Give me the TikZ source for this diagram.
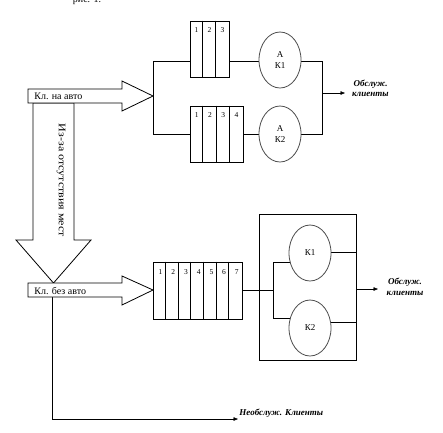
\documentclass[tikz,border=0pt]{standalone}
\usepackage{fontspec}
\setmainfont{Liberation Serif}
\usetikzlibrary{shapes.geometric,arrows.meta,backgrounds,calc}
\begin{document}
\begin{tikzpicture}[x=1pt,y=-1pt,line width=0.8pt,
 lbl/.style={font=\fontsize{10}{11}\selectfont,inner sep=0pt},
 ilbl/.style={font=\fontsize{9}{10.5}\selectfont\bfseries\itshape,inner sep=0pt},
 num/.style={font=\fontsize{7.5}{8}\selectfont,inner sep=0pt},
 queuebox/.style={draw,rectangle,minimum height=56pt,inner sep=0pt,fill=white},
 serv/.style={draw=black!70,ellipse,minimum width=42pt,minimum height=56pt,inner sep=0pt,fill=white,align=center,font=\fontsize{9}{11}\selectfont},
 bigarrow/.style={draw,fill=white},
 outarrow/.style={-{Triangle[length=4.5pt,width=3.5pt]}},
]
\useasboundingbox (0,0) rectangle (443,432);

% caption (cut off at top, as in the original)
\node[lbl,anchor=base] (cap) at (87,2.5) {рис. 1.};

% big arrows
\draw[bigarrow] (33,103) -- (74,103) -- (74,240) -- (91,240) -- (53.5,283) -- (16,240) -- (33,240) -- cycle;
\draw[bigarrow] (28,89) -- (122,89) -- (122,81) -- (153,96) -- (122,111) -- (122,103) -- (28,103) -- cycle;
\draw[bigarrow] (28,283) -- (122,283) -- (122,276) -- (153,290) -- (122,305) -- (122,297) -- (28,297) -- cycle;
\node[lbl,anchor=west] (a1) at (34,96.5) {Кл. на авто};
\node[lbl,anchor=west] (a2) at (34,290.5) {Кл. без авто};
\node[lbl,rotate=-90] (a3) at (61,180.5) {\scalebox{1.2}[1]{Из-за отсутствия мест}};
\coordinate (u0) at (52,297);

% top queues and servers
\node[queuebox,minimum width=39pt] (q1) at (209.5,49) {};
\foreach \i in {1,2} \draw ($(q1.north west)+(13*\i,0)$) -- ($(q1.south west)+(13*\i,0)$);
\foreach \i in {1,2,3} \node[num] (q1n\i) at ($(q1.north west)+(13*\i-6,9)$) {\i};

\node[queuebox,minimum width=53pt] (q2) at (216.5,134) {};
\foreach \i in {1,2,3} \draw ($(q2.north west)+(13.25*\i,0)$) -- ($(q2.south west)+(13.25*\i,0)$);
\foreach \i in {1,2,3,4} \node[num] (q2n\i) at ($(q2.north west)+(13.25*\i-6.2,9)$) {\i};

\node[serv] (k1) at (280,60) {А\\К1};
\node[serv] (k2) at (280,134) {А\\К2};

% bottom queue
\node[queuebox,minimum width=89pt,minimum height=57pt] (q3) at (197.5,290.5) {};
\foreach \i in {1,...,6} \draw ($(q3.north west)+(12.714*\i,0)$) -- ($(q3.south west)+(12.714*\i,0)$);
\foreach \i in {1,...,7} \node[num] (q3n\i) at ($(q3.north west)+(12.714*\i-4.8,10)$) {\i};

% bottom server block
\node[draw,minimum width=97pt,minimum height=146pt,inner sep=0pt] (box) at (307.5,287) {};
\node[serv] (kb1) at (310,253) {К1};
\node[serv] (kb2) at (310,328) {К2};

% labels
\node[ilbl,anchor=east] (t1) at (388,84) {Обслуж.};
\node[ilbl,anchor=east] (t2) at (389,94.5) {клиенты};
\node[ilbl,align=center] (t3) at (405,287) {Обслуж.\\клиенты};
\node[ilbl,anchor=south west] (t4) at (239,418) {Необслуж. Клиенты};

\begin{scope}[on background layer]
 \coordinate (f1) at (153,61);
 \coordinate (f2) at (153,134);
 \draw (q1.west |- f1) -- (f1) -- (f2) -- (q2.west |- f2);
 \draw (q1.east |- f1) -- (k1.center |- f1);
 \draw (q2.east) -- (k2);
 \coordinate (j1) at (322,61);
 \coordinate (j2) at (322,134);
 \draw (k1.center |- j1) -- (j1) -- (j2) -- (k2);
 \coordinate (o1) at (322,93);
 \coordinate (o1e) at (345,93);
 \draw[outarrow] (o1) -- (o1e);

 \coordinate (s) at (273,290);
 \coordinate (s1) at (273,262);
 \coordinate (s2) at (273,318);
 \draw (q3.east |- s) -- (s);
 \draw (s1 -| kb1) -- (s1) -- (s2) -- (s2 -| kb2);
 \coordinate (r1) at (356,252);
 \coordinate (r2) at (356,322);
 \draw (r1 -| kb1) -- (r1) -- (r2) -- (r2 -| kb2);
 \coordinate (r0) at (356,289);
 \coordinate (r0e) at (378,289);
 \draw[outarrow] (r0) -- (r0e);

 \coordinate (u1) at (52,419);
 \coordinate (u2) at (238,419);
 \draw[outarrow] (u0) -- (u1) -- (u2);
\end{scope}
\end{tikzpicture}
\end{document}
